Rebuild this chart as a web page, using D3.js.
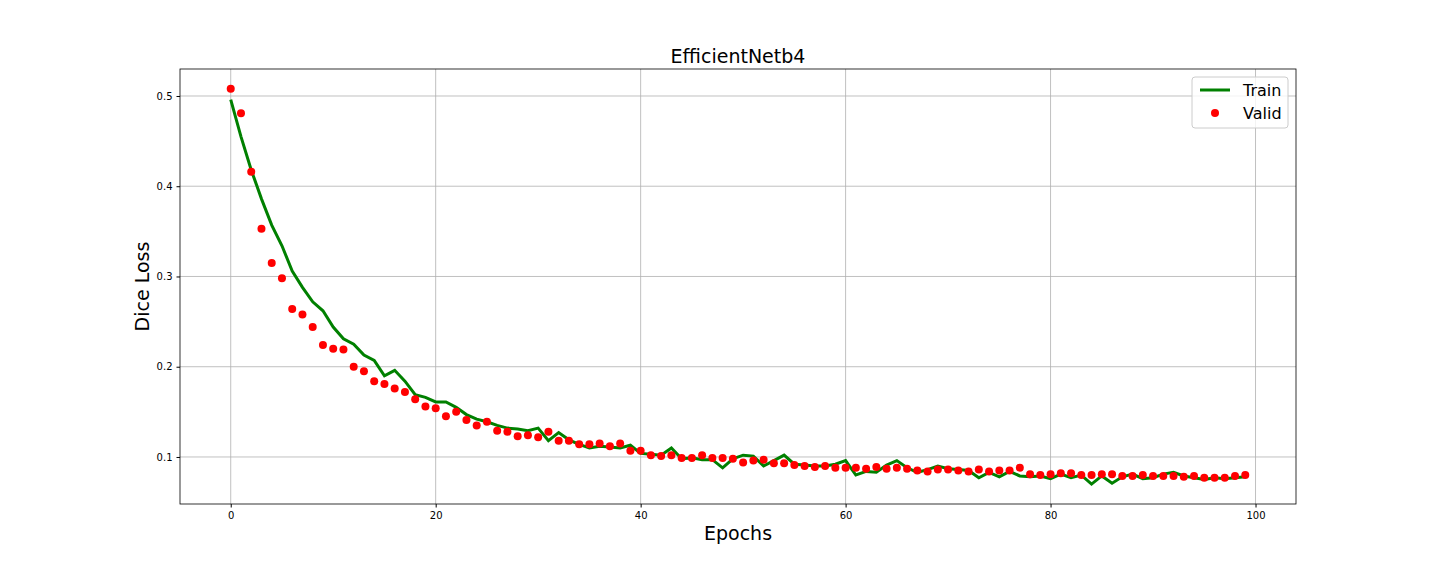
<!DOCTYPE html>
<html><head><meta charset="utf-8">
<script src="https://cdn.jsdelivr.net/npm/d3@7"></script>
<style>body{margin:0;background:#fff}svg{font-family:"DejaVu Sans",sans-serif}</style>
</head><body><svg id="c" width="1440" height="576"></svg>
<script>
const trainLoss=[0.496,0.455,0.418,0.386,0.357,0.334,0.306,0.288,0.272,0.262,0.244,0.231,0.225,0.213,0.207,0.190,0.196,0.184,0.169,0.166,0.161,0.161,0.155,0.147,0.142,0.139,0.135,0.132,0.131,0.129,0.132,0.118,0.127,0.119,0.114,0.110,0.112,0.111,0.110,0.113,0.104,0.103,0.102,0.110,0.098,0.099,0.097,0.097,0.088,0.098,0.102,0.101,0.090,0.096,0.102,0.092,0.091,0.090,0.090,0.092,0.096,0.080,0.084,0.083,0.091,0.096,0.088,0.083,0.086,0.090,0.087,0.086,0.085,0.077,0.083,0.078,0.084,0.079,0.078,0.079,0.076,0.081,0.077,0.080,0.070,0.079,0.071,0.078,0.081,0.076,0.077,0.081,0.083,0.079,0.077,0.075,0.077,0.076,0.077,0.078];
const validLoss=[0.508,0.481,0.416,0.353,0.315,0.298,0.264,0.258,0.244,0.224,0.220,0.219,0.200,0.195,0.184,0.181,0.176,0.172,0.164,0.156,0.154,0.145,0.150,0.141,0.135,0.139,0.129,0.128,0.123,0.124,0.122,0.128,0.118,0.118,0.114,0.114,0.115,0.112,0.115,0.107,0.107,0.102,0.101,0.102,0.099,0.099,0.102,0.099,0.099,0.098,0.094,0.096,0.097,0.093,0.093,0.091,0.090,0.089,0.090,0.088,0.088,0.088,0.087,0.089,0.087,0.088,0.087,0.085,0.084,0.086,0.086,0.085,0.084,0.086,0.084,0.085,0.085,0.088,0.081,0.080,0.081,0.082,0.082,0.080,0.080,0.081,0.081,0.079,0.079,0.080,0.079,0.079,0.079,0.078,0.079,0.077,0.077,0.077,0.079,0.080];
const xTicks=[0,20,40,60,80,100];
const yTicks=[0.1,0.2,0.3,0.4,0.5];
const epochs=trainLoss.map((d,i)=>i);

const svg=d3.select("#c");
const L=180,R=1296,T=69,B=504;
const x=d3.scaleLinear().domain([-4.95,103.95]).range([L,R]);
const y=d3.scaleLinear().domain([0.0479,0.5299]).range([B,T]);

const g=svg.append("g");
// grid
g.selectAll(".gx").data(xTicks).join("line").attr("x1",d=>x(d)).attr("x2",d=>x(d)).attr("y1",T).attr("y2",B).attr("stroke","#b0b0b0").attr("stroke-width",0.8);
g.selectAll(".gy").data(yTicks).join("line").attr("y1",d=>y(d)).attr("y2",d=>y(d)).attr("x1",L).attr("x2",R).attr("stroke","#b0b0b0").attr("stroke-width",0.8);

const xa=svg.append("g").attr("transform",`translate(0,${B})`).call(d3.axisBottom(x).tickValues(xTicks).tickFormat(d3.format("d")).tickSize(3.5).tickPadding(4));
const ya=svg.append("g").attr("transform",`translate(${L},0)`).call(d3.axisLeft(y).tickValues(yTicks).tickFormat(d3.format(".1f")).tickSize(3.5).tickPadding(4));
[xa,ya].forEach(a=>{a.select(".domain").remove();a.selectAll("text").attr("font-size",10).attr("fill","#000").attr("font-family","DejaVu Sans");a.selectAll("line").attr("stroke","#000");});

svg.append("path").datum(epochs).attr("fill","none").attr("stroke","green").attr("stroke-width",3)
  .attr("d",d3.line().x(i=>x(i)).y(i=>y(trainLoss[i])));
svg.selectAll(".v").data(epochs).join("circle").attr("cx",i=>x(i)).attr("cy",i=>y(validLoss[i])).attr("r",4).attr("fill","red");

svg.append("rect").attr("x",L).attr("y",T).attr("width",R-L).attr("height",B-T).attr("fill","none").attr("stroke","#000").attr("stroke-width",0.8);

svg.append("text").attr("x",(L+R)/2).attr("y",T-6).attr("text-anchor","middle").attr("font-size",19).text("EfficientNetb4");
svg.append("text").attr("x",(L+R)/2).attr("y",540).attr("text-anchor","middle").attr("font-size",19).text("Epochs");
svg.append("text").attr("transform",`translate(149,${(T+B)/2}) rotate(-90)`).attr("text-anchor","middle").attr("font-size",19).text("Dice Loss");

// legend
const lg=svg.append("g");
lg.append("rect").attr("x",1192).attr("y",77).attr("width",96).attr("height",51).attr("rx",3).attr("fill","#fff").attr("fill-opacity",0.8).attr("stroke","#ccc");
lg.append("line").attr("x1",1200).attr("x2",1230).attr("y1",90).attr("y2",90).attr("stroke","green").attr("stroke-width",3);
lg.append("circle").attr("cx",1215).attr("cy",113).attr("r",4).attr("fill","red");
lg.append("text").attr("x",1243).attr("y",96).attr("font-size",16).text("Train");
lg.append("text").attr("x",1243).attr("y",119).attr("font-size",16).text("Valid");
</script></body></html>
